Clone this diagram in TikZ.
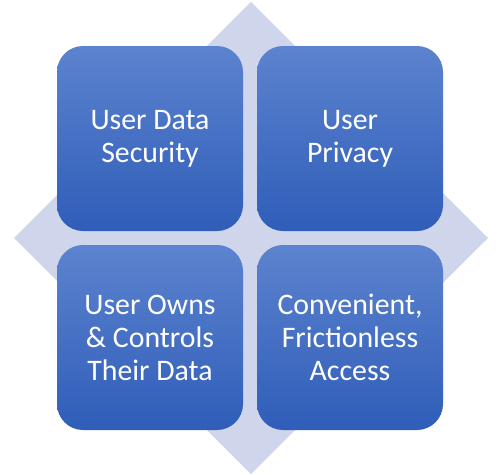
\documentclass[tikz,border=0pt]{standalone}
\usepackage{fontspec}
\setmainfont{Carlito}
\usepackage{tikz}
\usetikzlibrary{positioning}
\definecolor{diamondfill}{HTML}{CFD5EA}
\definecolor{tiletop}{HTML}{5C83CF}
\definecolor{tilebottom}{HTML}{2F5DB8}

\begin{document}
\begin{tikzpicture}[x=1pt, y=-1pt,
          tile/.style={rounded corners=26pt, top color=tiletop, bottom color=tilebottom,
            minimum width=186pt, minimum height=185pt, inner sep=0pt,
            text=white, align=center, font=\fontsize{29.8}{33}\selectfont},
        ]
        \useasboundingbox (0,0) rectangle (502,474);
        \fill[diamondfill] (251,2) -- (488,238) -- (251,474) -- (14,238) -- cycle;
        \node[tile] (security) at (150,138.5) {User Data\\Security};
        \node[tile] (privacy) at (350,138.5) {User\\Privacy};
        \node[tile] (ownership) at (150,337.5) {User Owns\\\& Controls\\Their Data};
        \node[tile] (access) at (350,337.5) {Convenient,\\Frictionless\\Access};
      \end{tikzpicture}
\end{document}
